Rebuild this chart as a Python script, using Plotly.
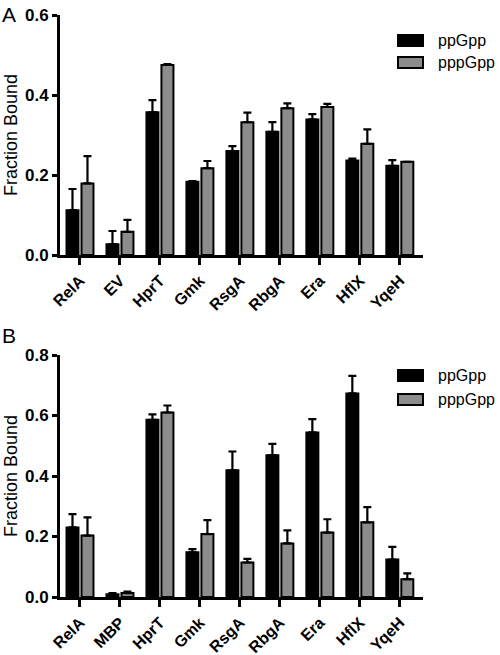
import plotly.graph_objects as go

# ---------------- data ----------------
cats_a = ["RelA", "EV", "HprT", "Gmk", "RsgA", "RbgA", "Era", "HflX", "YqeH"]
ppgpp_a = [0.112, 0.027, 0.357, 0.183, 0.260, 0.308, 0.339, 0.236, 0.223]
ppgpp_a_err = [0.053, 0.033, 0.030, 0.002, 0.012, 0.024, 0.013, 0.005, 0.014]
pppgpp_a = [0.179, 0.058, 0.475, 0.217, 0.332, 0.367, 0.370, 0.278, 0.233]
pppgpp_a_err = [0.068, 0.030, 0.002, 0.018, 0.024, 0.012, 0.008, 0.036, 0.0]

cats_b = ["RelA", "MBP", "HprT", "Gmk", "RsgA", "RbgA", "Era", "HflX", "YqeH"]
ppgpp_b = [0.230, 0.009, 0.586, 0.148, 0.419, 0.469, 0.544, 0.673, 0.124]
ppgpp_b_err = [0.044, 0.004, 0.018, 0.010, 0.062, 0.037, 0.044, 0.058, 0.042]
pppgpp_b = [0.203, 0.013, 0.610, 0.208, 0.114, 0.177, 0.213, 0.247, 0.059]
pppgpp_b_err = [0.060, 0.005, 0.023, 0.046, 0.012, 0.043, 0.044, 0.050, 0.019]

series_names = ["ppGpp", "pppGpp"]
series_colors = ["#000000", "#8c8c8c"]
yticks_a = [0.0, 0.2, 0.4, 0.6]
yticks_b = [0.0, 0.2, 0.4, 0.6, 0.8]

W, H = 500, 655
FONT = "Arial, Liberation Sans, sans-serif"


def px(x):
    return x / W


def py(y):
    return 1 - y / H


fig = go.Figure()

panels = [
    (cats_a, [ppgpp_a, pppgpp_a], [ppgpp_a_err, pppgpp_a_err], "x", "y"),
    (cats_b, [ppgpp_b, pppgpp_b], [ppgpp_b_err, pppgpp_b_err], "x2", "y2"),
]
for cats, vals, errs, xa, ya in panels:
    for name, color, v, e in zip(series_names, series_colors, vals, errs):
        fig.add_trace(go.Bar(
            x=cats, y=v, name=name, xaxis=xa, yaxis=ya, showlegend=False,
            marker=dict(color=color, line=dict(color="black", width=2)),
            error_y=dict(type="data", array=e, arrayminus=[0] * len(e),
                         symmetric=False, color="black", thickness=2.2, width=4),
        ))

axis_common = dict(
    showline=True, linecolor="black", linewidth=3, ticks="outside",
    tickcolor="black", tickwidth=3, showgrid=False, zeroline=False,
    automargin=False,
)
xdom = [px(60), px(423)]
xfont = dict(size=16, weight="bold")
yfont = dict(size=17, weight="bold")
fig.update_layout(
    template="none",
    width=W, height=H, margin=dict(l=0, r=0, t=0, b=0),
    plot_bgcolor="white", paper_bgcolor="white",
    barmode="group", bargap=0.25, bargroupgap=0.2,
    font=dict(family=FONT, color="black"),
    xaxis=dict(domain=xdom, anchor="y", range=[-0.5, 8.58], ticklen=7,
               tickangle=-45, tickfont=xfont, **axis_common),
    yaxis=dict(domain=[py(255), py(15)], anchor="x", range=[0, 0.6],
               tickvals=yticks_a, ticktext=[f"{t:.1f}" for t in yticks_a],
               ticklen=5, tickfont=yfont, **axis_common),
    xaxis2=dict(domain=xdom, anchor="y2", range=[-0.5, 8.58], ticklen=7,
                tickangle=-45, tickfont=xfont, **axis_common),
    yaxis2=dict(domain=[py(597), py(355)], anchor="x2", range=[0, 0.8],
                tickvals=yticks_b, ticktext=[f"{t:.1f}" for t in yticks_b],
                ticklen=5, tickfont=yfont, **axis_common),
)

annotations = []
shapes = []
# y-axis titles and panel labels
for label, ycenter, ytop in [("A", 135, 1), ("B", 476, 322)]:
    annotations.append(dict(text="Fraction Bound", x=px(11), y=py(ycenter), xref="paper",
                            yref="paper", textangle=-90, showarrow=False,
                            font=dict(size=18), xanchor="center", yanchor="middle"))
    annotations.append(dict(text=label, x=px(0), y=py(ytop), xref="paper", yref="paper",
                            showarrow=False, font=dict(size=21), xanchor="left",
                            yanchor="top"))

# legends
for ytops in [(35, 57), (370, 394)]:
    for name, color, yt in zip(series_names, series_colors, ytops):
        shapes.append(dict(type="rect", xref="paper", yref="paper",
                           x0=px(398), x1=px(423), y0=py(yt), y1=py(yt + 11),
                           fillcolor=color, line=dict(color="black", width=2)))
        annotations.append(dict(text=name, x=px(436), y=py(yt + 5.5), xref="paper",
                                yref="paper", showarrow=False, font=dict(size=16),
                                xanchor="left", yanchor="middle"))

fig.update_layout(annotations=annotations, shapes=shapes)
fig.write_html("out.html")
